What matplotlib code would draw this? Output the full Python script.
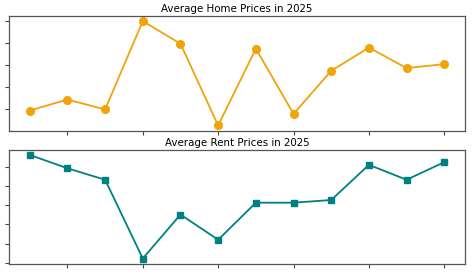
import matplotlib
matplotlib.use("Agg")
import matplotlib.pyplot as plt

months = ["Jan", "Feb", "Mar", "Apr", "May", "Jun",
          "Jul", "Aug", "Sep", "Oct", "Nov", "Dec"]
# home prices, thousands of dollars
home_prices = [299, 309, 300, 380, 359.5, 285.5, 355, 296, 335, 356, 337.5, 341]
home_ticks = [300, 320, 340, 360, 380]
# rent, dollars per month
rent_prices = [1782, 1747, 1717, 1511, 1626, 1560, 1657, 1657, 1664, 1756, 1717, 1763]
rent_ticks = [1500, 1550, 1600, 1650, 1700, 1750]

home_color = "#f0a30a"
rent_color = "#008080"

fig = plt.figure(figsize=(4.74, 2.74), dpi=100)
ax1 = fig.add_axes([0.019, 0.523, 0.962, 0.419])
ax2 = fig.add_axes([0.019, 0.0376, 0.962, 0.416])

x = list(range(len(months)))

ax1.plot(x, home_prices, color=home_color, marker="o", markersize=5.5, linewidth=1.3)
ax1.set_title("Average Home Prices in 2025", fontsize=7.4, pad=3)
ax1.set_yticks(home_ticks)

ax2.plot(x, rent_prices, color=rent_color, marker="s", markersize=4.5, linewidth=1.3)
ax2.set_title("Average Rent Prices in 2025", fontsize=7.4, pad=3)
ax2.set_yticks(rent_ticks)

for ax in (ax1, ax2):
    ax.set_xticks(x[1::2])
    ax.set_xticklabels(months[1::2])
    ax.tick_params(labelleft=False, labelbottom=False, length=3, width=0.8, color="#444444")
    for s in ax.spines.values():
        s.set_color("#555555")
        s.set_linewidth(0.9)

fig.savefig("out.png", dpi=100)
